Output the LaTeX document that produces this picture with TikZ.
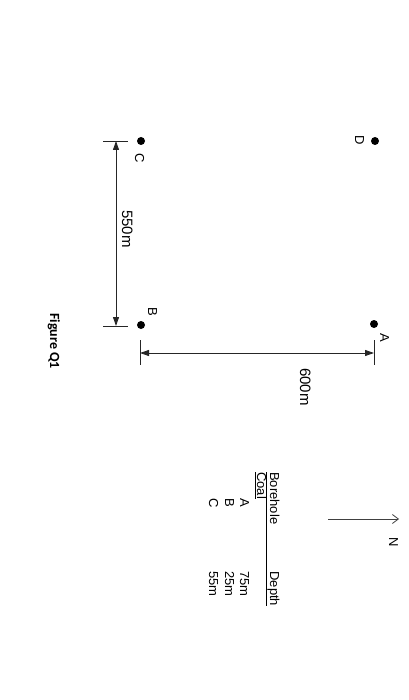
\documentclass[tikz,border=0pt]{standalone}
\usepackage{fontspec}
\setmainfont{Liberation Sans}
\newfontfamily\capfont{Carlito}
\usepackage{tikz}
\usetikzlibrary{arrows.meta}

\tikzset{
  bore/.style={circle, fill=black, inner sep=0pt, minimum size=8pt},
  lbl/.style={rotate=-90, inner sep=0pt, anchor=base west, font=\fontsize{13}{15}\selectfont},
  dimtxt/.style={rotate=-90, inner sep=0pt, anchor=base west, font=\fontsize{15}{18}\selectfont},
  dimline/.style={black!85, line width=0.9pt, {Triangle[length=9pt,width=6pt]}-{Triangle[length=9pt,width=6pt]}},
  tick/.style={black!85, line width=0.9pt}
}

\begin{document}
\begin{tikzpicture}[x=1pt, y=-1pt]
\useasboundingbox (0,0) rectangle (408,700);
% Boreholes
\node[bore] (D) at (375,141) {};
\node[bore] (C) at (141,141) {};
\node[bore] (B) at (141,325) {};
\node[bore] (A) at (374,324) {};
\node[lbl] (lD) at (355,135) {D};
\node[lbl] (lC) at (135,153) {C};
\node[lbl] (lB) at (148,307) {B};
\node[lbl] (lA) at (380,333) {A};
% 550m dimension
\coordinate (c1) at (103,141);
\coordinate (c2) at (128,141);
\coordinate (b1) at (103,326);
\coordinate (b2) at (128,326);
\coordinate (cc) at (116,141);
\coordinate (bb) at (116,326);
\draw[tick] (c1) -- (c2);
\draw[tick] (b1) -- (b2);
\draw[dimline] (cc) -- (bb);
\node[dimtxt] (d550) at (122,210) {550m};
% 600m dimension
\coordinate (t1) at (140,340);
\coordinate (t2) at (140,365);
\coordinate (s1) at (374,340);
\coordinate (s2) at (374,365);
\coordinate (tt) at (140,353);
\coordinate (ss) at (374,353);
\draw[tick] (t1) -- (t2);
\draw[tick] (s1) -- (s2);
\draw[dimline] (tt) -- (ss);
\node[dimtxt] (d600) at (300,368) {600m};
% North
\coordinate (n0) at (328,519);
\coordinate (n1) at (399,519);
\draw[black!75, line width=0.8pt, -{Straight Barb[length=6pt,width=9pt]}] (n0) -- (n1);
\node[lbl] (N) at (389,537) {N};
% Table
\node[lbl] (head) at (270,472) {\underline{\makebox[134pt][l]{Borehole\hfill Depth}}};
\node[lbl] (coal) at (257,472) {\underline{Coal}};
\node[lbl] (rA) at (240,498) {A};
\node[lbl] (rB) at (225,498) {B};
\node[lbl] (rC) at (209,498) {C};
\node[lbl] (vA) at (240,571) {75m};
\node[lbl] (vB) at (225,571) {25m};
\node[lbl] (vC) at (209,571) {55m};
% Caption
\node[rotate=-90, inner sep=0pt, anchor=base west, font=\capfont\bfseries\fontsize{14}{16}\selectfont] (fig) at (50,313) {Figure Q1};
\end{tikzpicture}
\end{document}
